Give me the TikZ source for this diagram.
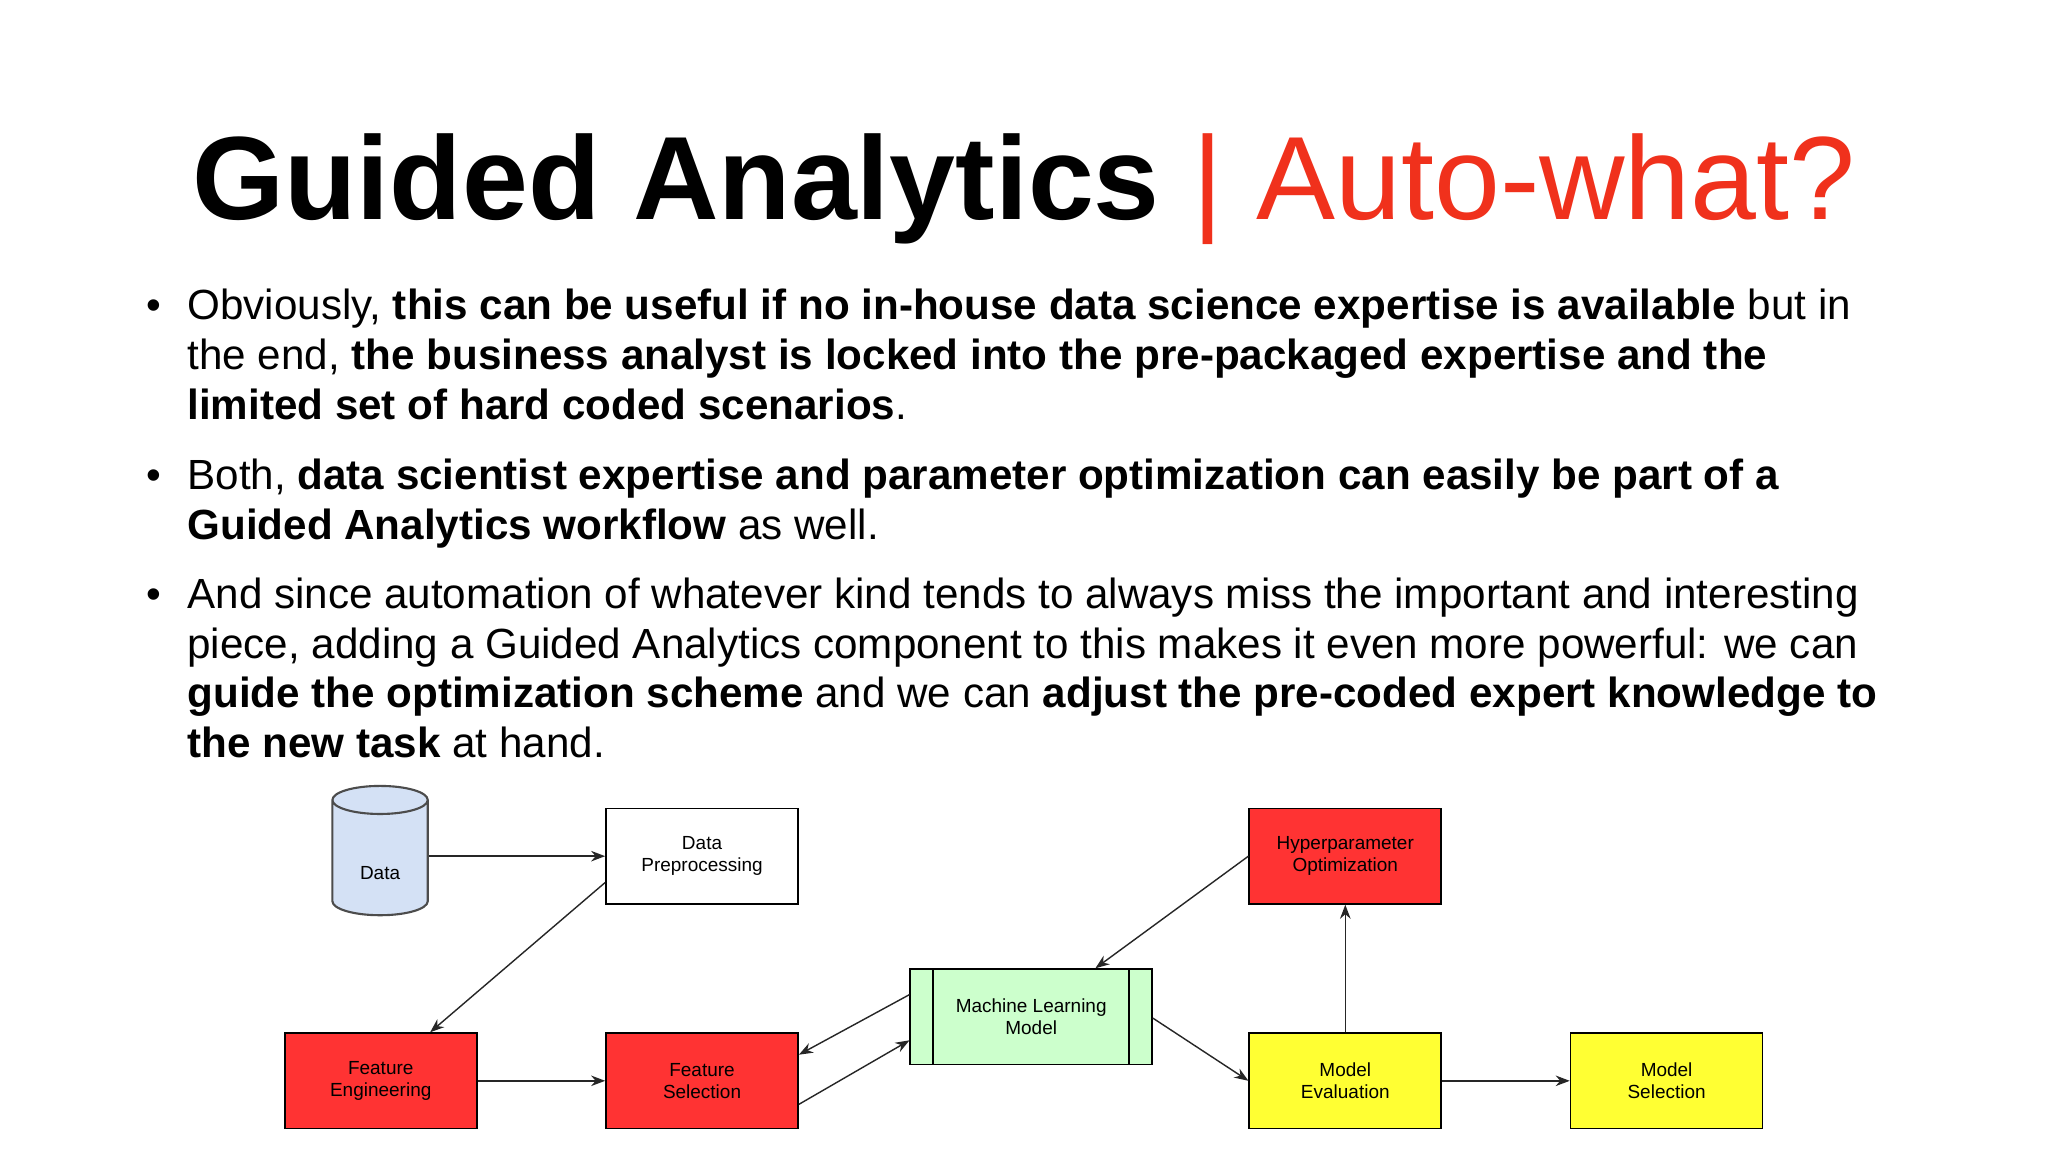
\documentclass[tikz,border=0pt]{standalone}
\usepackage{fontspec}
\setmainfont{Liberation Sans}
\usetikzlibrary{shapes.geometric,arrows.meta,calc}
\definecolor{tred}{HTML}{F0311C}
\definecolor{bred}{HTML}{FF3333}
\definecolor{byel}{HTML}{FFFF33}
\definecolor{bgrn}{HTML}{CCFFCC}
\definecolor{bblue}{HTML}{D4E1F5}
\tikzset{
 body/.style={anchor=north west,align=left,inner sep=0pt,font=\fontsize{12}{14.1}\selectfont},
 bul/.style={anchor=base,inner sep=0pt,font=\fontsize{12}{14.1}\selectfont},
 box/.style={draw=black,line width=0.5pt,minimum width=147\unitx,minimum height=73\unitx,align=center,font=\fontsize{5.4}{6.2}\selectfont,inner sep=0pt},
 conn/.style={-{Stealth[length=4pt,width=3pt]},line width=0.4pt,draw=black!85}
}
\newlength{\unitx}\setlength{\unitx}{0.013061cm}
\begin{document}
\begin{tikzpicture}[x=0.013061cm,y=-0.013061cm]
\fill[white] (0,0) rectangle (1568,882);
\node[anchor=base,inner sep=0pt,font=\fontsize{33.7}{38}\selectfont] (title) at (784,168)
 {\textbf{Guided Analytics} \textcolor{tred}{| Auto-what?}};
\node[bul] (b1) at (118,245) {•};
\node[body] (t1) at (143,221) {Obviously, \textbf{this can be useful if no in-house data science expertise is available} but in\\
the end, \textbf{the business analyst is locked into the pre-packaged expertise and the}\\
\textbf{limited set of hard coded scenarios}.};
\node[bul] (b2) at (118,375) {•};
\node[body] (t2) at (143,351) {Both, \textbf{data scientist expertise and parameter optimization can easily be part of a}\\
\textbf{Guided Analytics workflow} as well.};
\node[bul] (b3) at (118,466) {•};
\node[body] (t3) at (143,442) {And since automation of whatever kind tends to always miss the important and interesting\\
piece, adding a Guided Analytics component to this makes it even more powerful: we can\\
\textbf{guide the optimization scheme} and we can \textbf{adjust the pre-coded expert knowledge to}\\
\textbf{the new task} at hand.};
% diagram
\node[cylinder,shape border rotate=90,draw=black!70,fill=bblue,line width=0.6pt,minimum width=73\unitx,minimum height=99\unitx,aspect=0.7,inner sep=0pt,font=\fontsize{5.4}{6.2}\selectfont] (data) at (291,657) {\raisebox{-12pt}{Data}};
\node[box,fill=white] (dp) at (537.5,655.5) {Data\\Preprocessing};
\node[box,fill=bred] (ho) at (1030,655.5) {Hyperparameter\\Optimization};
\node[box,fill=bgrn,minimum width=185\unitx] (ml) at (789.5,778.5) {Machine Learning\\Model};
\draw[line width=0.5pt] ($(ml.north west)+(18,0)$) -- ($(ml.south west)+(18,0)$);
\draw[line width=0.5pt] ($(ml.north east)+(-18,0)$) -- ($(ml.south east)+(-18,0)$);
\node[box,fill=bred] (fe) at (291.5,827.5) {Feature\\Engineering};
\node[box,fill=bred] (fs) at (537.5,827.5) {Feature\\Selection};
\node[box,fill=byel] (me) at (1030,827.5) {Model\\Evaluation};
\node[box,fill=byel] (ms) at (1276,827.5) {Model\\Selection};
\draw[conn] (data.east |- dp.west) -- (dp.west);
\draw[conn] ($(dp.south west)+(0,-17)$) -- ($(fe.north west)+(112,0)$);
\draw[conn] (fe) -- (fs);
\draw[conn] ($(ml.west)+(0,-17)$) -- ($(fs.east)+(0,-20)$);
\draw[conn] ($(fs.east)+(0,18)$) -- ($(ml.west)+(0,18)$);
\draw[conn] ($(ml.east)+(0,1)$) -- (me.west);
\draw[conn] (me.north) -- (ho.south);
\draw[conn] (ho.west) -- ($(ml.north east)+(-44,0)$);
\draw[conn] (me) -- (ms);
\end{tikzpicture}
\end{document}
